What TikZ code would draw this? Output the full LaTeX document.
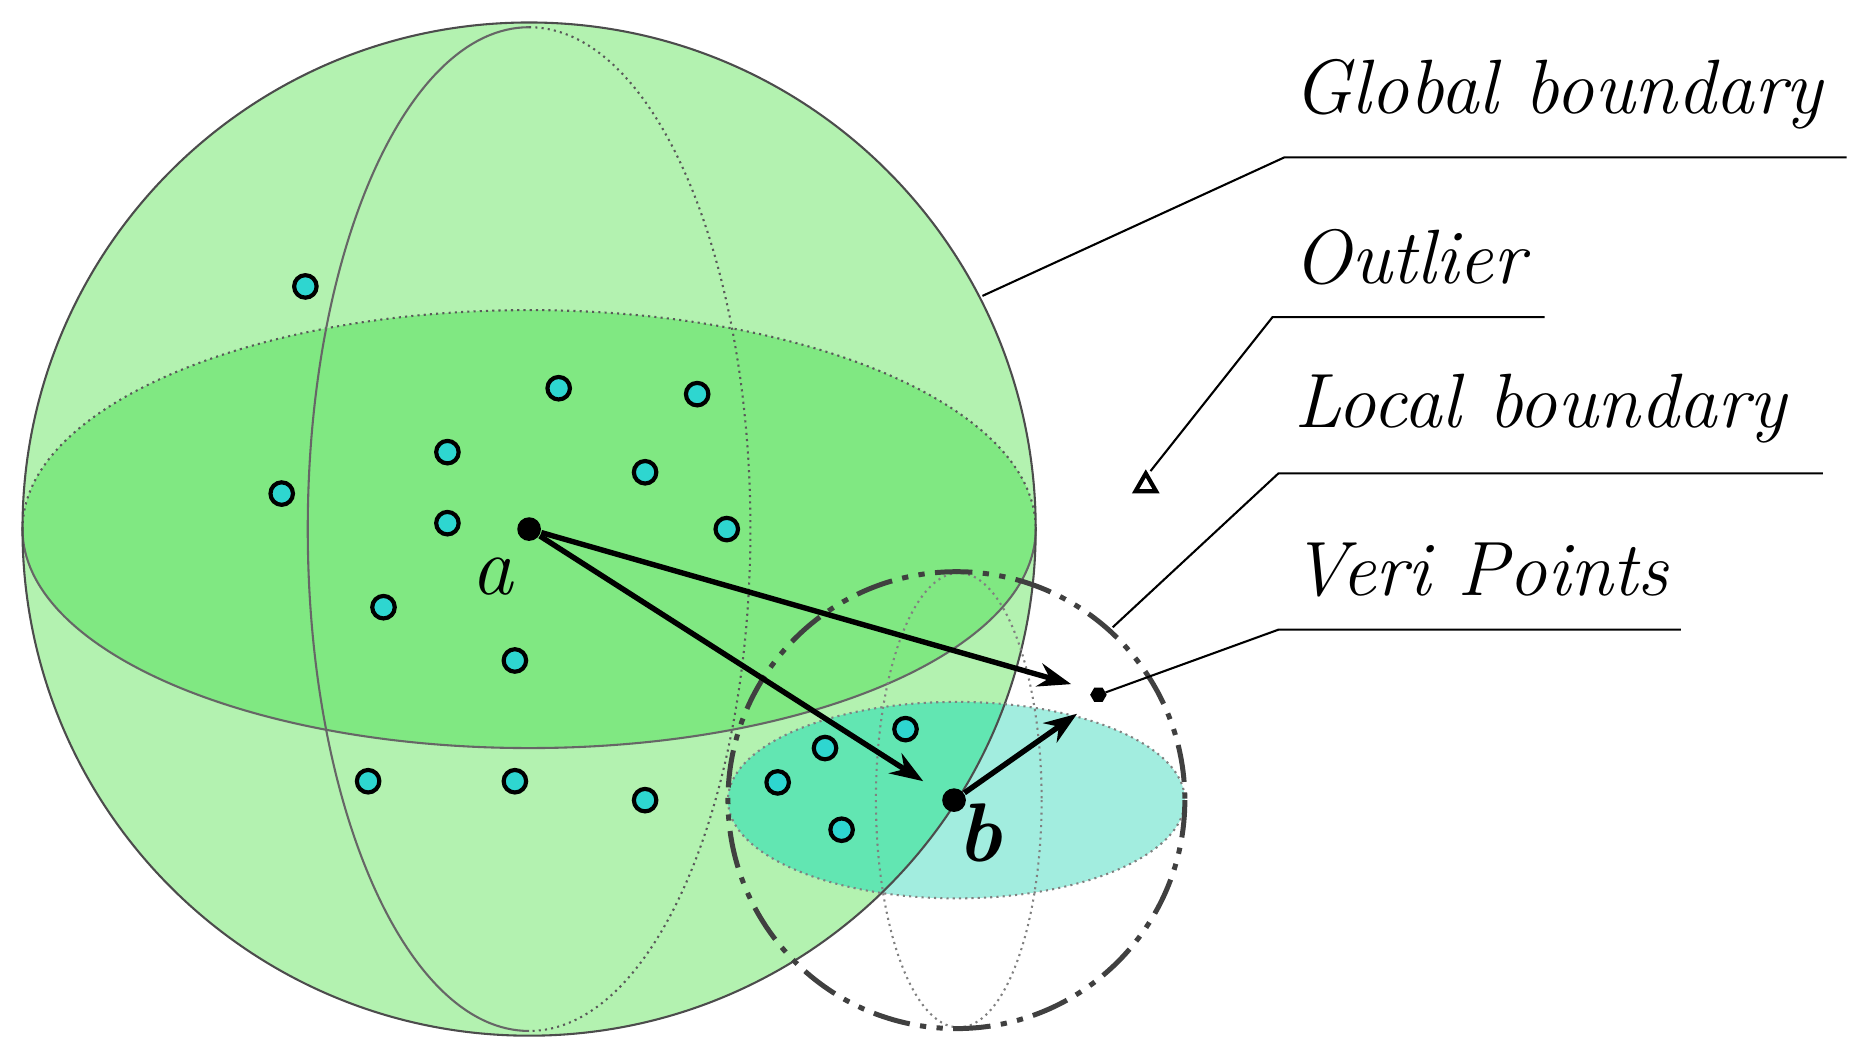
\documentclass[tikz,border=0pt]{standalone}
\usetikzlibrary{arrows.meta,shapes.geometric}
\definecolor{sph}{HTML}{B3F2B0}
\definecolor{eqd}{HTML}{80E882}
\definecolor{cy}{HTML}{A2EDDF}
\definecolor{cyd}{HTML}{62E6B2}
\definecolor{dot}{HTML}{2ED6D0}
\begin{document}
\begin{tikzpicture}[x=0.01cm,y=-0.01cm,
  pt/.style={circle,draw=black,fill=dot,line width=1pt,inner sep=0pt,minimum size=0.19cm},
  big/.style={circle,fill=black,inner sep=0pt,minimum size=0.2cm},
  arr/.style={-{Stealth[length=0.28cm,width=0.2cm]},line width=1.3pt},
  lab/.style={font=\fontsize{18.5}{23}\selectfont\itshape,anchor=south west,inner sep=0pt},
  thin/.style={line width=0.5pt}]
\useasboundingbox (0,0) rectangle (1568,898);
% big sphere
\fill[sph] (447,447) circle [radius=428];
\fill[eqd] (447,447) ellipse [x radius=428,y radius=185];
\draw[thin,densely dotted,gray!70!black] (19,447) arc[start angle=180,end angle=0,x radius=428,y radius=-185];
\draw[thin,black!60] (19,447) arc[start angle=180,end angle=360,x radius=428,y radius=-185];
\draw[thin,black!60] (447,23) arc[start angle=90,end angle=270,x radius=187,y radius=-424];
\draw[thin,densely dotted,gray!70!black] (447,23) arc[start angle=90,end angle=-90,x radius=187,y radius=-424];
% small sphere
\fill[cy] (808,676) ellipse [x radius=193,y radius=83];
\begin{scope}
\clip (447,447) circle [radius=428];
\fill[cyd] (808,676) ellipse [x radius=193,y radius=83];
\end{scope}
\draw[thin,black!70] (447,447) circle [radius=428];
\draw[thin,densely dotted,gray] (808,676) ellipse [x radius=193,y radius=83];
\draw[thin,densely dotted,gray] (810,676) ellipse [x radius=70,y radius=192];
\draw[line width=1.2pt,black!75,dash pattern=on 9pt off 2.5pt on 1.5pt off 2.5pt on 1.5pt off 2.5pt] (808,676) circle [radius=193];
% points
\foreach \x/\y [count=\i] in {258/242,472/328,589/333,378/382,545/399,238/417,378/442,614/447,324/513,435/558,311/660,435/660,545/676,765/616,697/632,657/661,711/701}
  \node[pt] (p\i) at (\x,\y) {};
\node[big] (a) at (447,447) {};
\node[big] (b) at (806,676) {};
\node[regular polygon,regular polygon sides=6,fill=black,inner sep=0pt,minimum size=0.14cm] (v) at (928,587) {};
\node[regular polygon,regular polygon sides=3,draw=black,line width=1pt,inner sep=0pt,minimum size=0.2cm] (o) at (968,410) {};
\node[font=\fontsize{20}{24}\selectfont\itshape] (la) at (416,487) {a};
\node[font=\fontsize{20}{24}\selectfont\bfseries\itshape] (lb) at (828,704) {b};
\coordinate (t1) at (780,660);
\coordinate (t2) at (905,578);
\coordinate (t3) at (910,603);
\draw[arr] (a) -- (t1);
\draw[arr] (a) -- (t2);
\draw[arr] (b) -- (t3);
% labels
\node[lab] (g) at (1092,110) {Global boundary};
\node[lab] (ol) at (1092,242) {Outlier};
\node[lab] (lo) at (1093,375) {Local boundary};
\node[lab] (ve) at (1090,505) {Veri Points};
\coordinate (g1) at (1085,133); \coordinate (g2) at (1560,133); \coordinate (g0) at (830,250);
\coordinate (o1) at (1075,268); \coordinate (o2) at (1305,268); \coordinate (o0) at (972,398);
\coordinate (l1) at (1080,400); \coordinate (l2) at (1540,400); \coordinate (l0) at (940,530);
\coordinate (v1) at (1080,532); \coordinate (v2) at (1420,532); \coordinate (v0) at (934,585);
\draw[thin] (g0) -- (g1) -- (g2);
\draw[thin] (o0) -- (o1) -- (o2);
\draw[thin] (l0) -- (l1) -- (l2);
\draw[thin] (v0) -- (v1) -- (v2);
\end{tikzpicture}
\end{document}
